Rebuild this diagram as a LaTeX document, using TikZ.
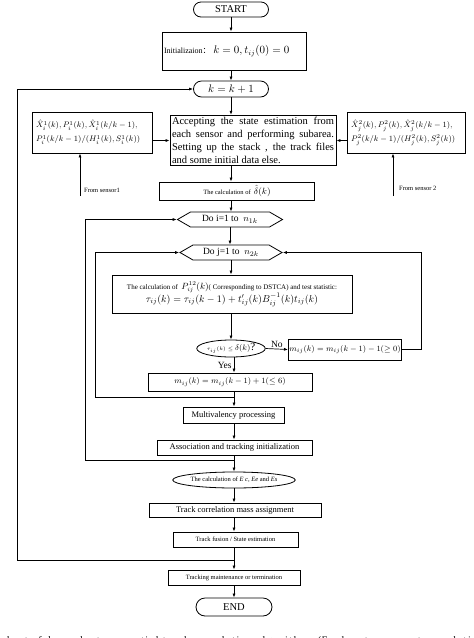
\documentclass[tikz,border=0pt]{standalone}
\usepackage{fontspec}
\setmainfont{Liberation Serif}
\newfontfamily\cjk{Noto Sans CJK SC}
\newfontfamily\capfont[LetterSpace=16]{Liberation Serif}
\usetikzlibrary{shapes.geometric, shapes.misc, shapes.symbols, arrows.meta}

\begin{document}
\begin{tikzpicture}[x=1pt,y=-1pt,
    box/.style={draw, line width=0.8pt, inner sep=1pt, align=center},
    term/.style={draw, line width=0.8pt, rounded rectangle, inner sep=0pt, minimum width=75pt, minimum height=15pt},
    loopbox/.style={draw, line width=0.8pt, signal, signal to=west and east, signal pointer angle=60, inner sep=0pt, minimum height=15pt},
    oval/.style={draw, line width=0.8pt, ellipse, inner sep=0pt},
    arr/.style={-{Latex[length=4pt,width=3pt]}, line width=0.7pt},
    line/.style={line width=0.7pt}]
    \clip (0,0) rectangle (474,638);
    % Define nodes
    \node[term, font=\fontsize{10.5}{12}\selectfont] (start) at (231,9.5) {START};
    \node[box, minimum width=144pt, minimum height=38pt, text width=140pt, align=left, font=\fontsize{8}{10}\selectfont] (init) at (234,51) {Initializaion{\cjk ：}\ {\fontsize{10.5}{12}\selectfont$k=0,t_{ij}(0)=0$}};
    \node[term, minimum height=16pt, font=\fontsize{11}{12}\selectfont] (kk) at (231,89) {$k=k+1$};
    \node[box, text width=162pt, align=justify, inner sep=2pt, font=\fontsize{10.5}{13}\selectfont] (accept) at (253,140.5) {Accepting the state estimation from\linebreak each sensor and performing subarea.\linebreak Setting up the stack , the track files\linebreak and some initial data else.};
    \node[box, minimum width=120pt, minimum height=41pt, text width=112pt, align=left, font=\fontsize{8.5}{14}\selectfont] (est1) at (92,132.5) {$\hat{X}_i^1(k),P_i^1(k),\hat{X}_i^1(k/k-1),$\\$P_i^1(k/k-1)/(H_i^1(k),S_i^1(k))$};
    \node[box, minimum width=118pt, minimum height=41pt, text width=110pt, align=left, font=\fontsize{8.5}{14}\selectfont] (est2) at (406,132.5) {$\hat{X}_j^2(k),P_j^2(k),\hat{X}_j^2(k/k-1),$\\$P_j^2(k/k-1)/(H_j^2(k),S_j^2(k))$};
    \coordinate (s1) at (80,196);
    \coordinate (s2) at (393,196);
    \node[anchor=west, inner sep=0pt, font=\fontsize{6.5}{8}\selectfont] (s1lab) at (84,190) {From sensor1};
    \node[anchor=west, inner sep=0pt, font=\fontsize{6.5}{8}\selectfont] (s2lab) at (399,188) {From sensor 2};
    \node[box, minimum width=155pt, minimum height=18pt, font=\fontsize{6.5}{8}\selectfont] (delta) at (237,191) {The calculation of \ {\fontsize{9}{10}\selectfont$\hat{\delta}(k)$}};
    \node[loopbox, minimum width=105pt, font=\fontsize{9.5}{11}\selectfont] (hexi) at (230,219.5) {Do i=1 to \ $n_{1k}$};
    \node[loopbox, minimum width=102pt, font=\fontsize{9.5}{11}\selectfont] (hexj) at (231,252.5) {Do j=1 to \ $n_{2k}$};
    \node[box, minimum width=240pt, minimum height=38pt] (calc) at (232,294) {{\fontsize{7}{8}\selectfont The calculation of \ {\fontsize{9}{10}\selectfont$P_{ij}^{12}(k)$}( Corresponding to DSTCA) and test statistic:}\\[1pt]{\fontsize{10}{12}\selectfont$\tau_{ij}(k)=\tau_{ij}(k-1)+t'_{ij}(k)B_{ij}^{-1}(k)t_{ij}(k)$}};
    \node[oval, minimum width=68pt, minimum height=17pt] (test) at (231,348.5) {{\fontsize{5}{6}\selectfont$\tau_{ij}(k)\le$}\,{\fontsize{8}{9}\selectfont$\delta(k)$}{\fontsize{11}{12}\selectfont ?}};
    \node[box, minimum width=106pt, minimum height=21pt, font=\fontsize{8}{10}\selectfont] (nobox) at (345,349.5) {$m_{ij}(k)=m_{ij}(k-1)-1(\ge 0)$};
    \node[box, minimum width=164pt, minimum height=18pt, font=\fontsize{8}{10}\selectfont] (yesbox) at (230,382) {$m_{ij}(k)=m_{ij}(k-1)+1(\le 6)$};
    \node[box, minimum width=101pt, minimum height=16pt, font=\fontsize{8.5}{10}\selectfont] (multi) at (233.5,415) {Multivalency processing};
    \node[box, minimum width=155pt, minimum height=15pt, font=\fontsize{8.5}{10}\selectfont] (assoc) at (234.5,447.5) {Association and tracking initialization};
    \node[oval, minimum width=106pt, minimum height=16pt, font=\fontsize{6.5}{8}\selectfont] (ecalc) at (234,480) {The calculation of \textit{E c}, \textit{Ee} and \textit{Es}};
    \node[box, minimum width=172pt, minimum height=14pt, font=\fontsize{8.5}{10}\selectfont] (corr) at (235,510) {Track correlation mass assignment};
    \node[box, minimum width=125pt, minimum height=15pt, font=\fontsize{6.5}{8}\selectfont] (fusion) at (235.5,539.5) {Track fusion / State estimation};
    \node[box, minimum width=132pt, minimum height=15pt, font=\fontsize{6.5}{8}\selectfont] (maint) at (234,577.5) {Tracking maintenance or termination};
    \node[term, minimum width=76pt, minimum height=18pt, font=\fontsize{10.5}{12}\selectfont] (end) at (234,607) {END};
    \node[anchor=base west, inner sep=0pt, font=\capfont\fontsize{10}{12}\selectfont] (caption) at (1,643) {chart of dependent sequential track correlation algorithm. (\textit{Ec} denotes correct correlation};
    % Loop corners
    \coordinate (outer) at (234,560);
    \coordinate (outerl) at (17,560);
    \coordinate (iback) at (234,460);
    \coordinate (ileft) at (85,460);
    \coordinate (jback) at (234,397);
    \coordinate (jleft) at (95,397);
    \coordinate (jright) at (421,349.5);
    % Draw edges
    \draw[arr] (start.south) -- (start.south |- init.north);
    \draw[arr] (kk |- init.south) -- (kk.north);
    \draw[arr] (kk.south) -- (kk.south |- accept.north);
    \draw[arr] (est1.east |- accept) -- (accept.west);
    \draw[arr] (est2.west |- accept) -- (accept.east);
    \draw[arr] (s1) -- (s1 |- est1.south);
    \draw[arr] (s2) -- (s2 |- est2.south);
    \draw[arr] (kk |- accept.south) -- (kk |- delta.north);
    \draw[arr] (kk |- delta.south) -- (kk |- hexi.north);
    \draw[arr] (hexi.south) -- (hexi.south |- hexj.north);
    \draw[arr] (hexj.south) -- (hexj.south |- calc.north);
    \draw[arr] (test |- calc.south) -- (test.north);
    \draw[arr] (test.east) -- node[above, inner sep=1pt, font=\fontsize{9.5}{11}\selectfont] {No} (nobox.west);
    \draw[arr] (nobox.east) -- (jright) |- (hexj.east);
    \draw[arr] (jback |- test.south) -- node[left, inner sep=2pt, font=\fontsize{9.5}{11}\selectfont] {Yes} (jback |- yesbox.north);
    \draw[line] (jback |- yesbox.south) -- (jback);
    \draw[arr] (jback) -- (jback |- multi.north);
    \draw[arr] (jback) -- (jleft) |- (hexj.west);
    \draw[arr] (jback |- multi.south) -- (jback |- assoc.north);
    \draw[line] (iback |- assoc.south) -- (iback);
    \draw[arr] (iback) -- (iback |- ecalc.north);
    \draw[arr] (iback) -- (ileft) |- (hexi.west);
    \draw[arr] (iback |- ecalc.south) -- (iback |- corr.north);
    \draw[arr] (iback |- corr.south) -- (iback |- fusion.north);
    \draw[line] (outer |- fusion.south) -- (outer);
    \draw[arr] (outer) -- (maint.north);
    \draw[arr] (outer) -- (outerl) |- (kk.west);
    \draw[arr] (maint.south) -- (end.north);
\end{tikzpicture}
\end{document}
